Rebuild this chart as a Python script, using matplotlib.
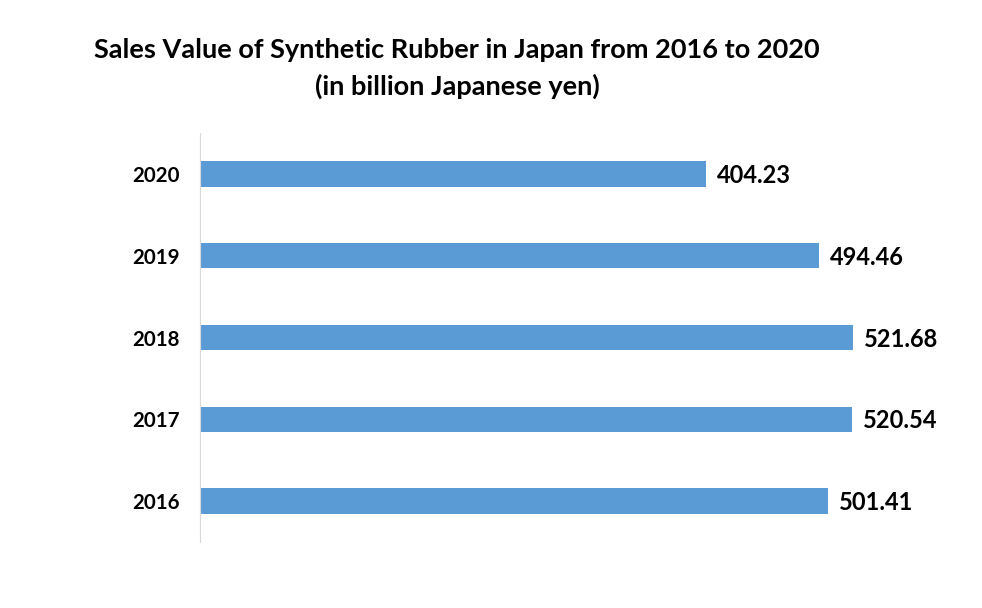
import matplotlib
matplotlib.use('Agg')
import matplotlib.pyplot as plt

years = ['2016', '2017', '2018', '2019', '2020']
values = [501.41, 520.54, 521.68, 494.46, 404.23]

plt.rcParams['font.family'] = ['Lato', 'DejaVu Sans']

fig = plt.figure(figsize=(9.82, 6.08), dpi=100)
# axes placed in pixel terms: x 200..951, y 133..542 (from top)
ax = fig.add_axes([200 / 982, (608 - 542) / 608, 751 / 982, 409 / 608])

ax.barh(range(len(years)), values, height=0.31, color='#5b9bd5')
ax.set_xlim(0, 600)
ax.set_ylim(-0.5, len(years) - 0.5)
ax.set_yticks(range(len(years)))
ax.set_yticklabels(years, fontsize=14.8, fontweight='bold')
ax.tick_params(axis='y', length=0, pad=14.4)
ax.set_xticks([])

for i, v in enumerate(values):
    ax.text(v + 9, i - 0.02, f'{v:.2f}', va='center', ha='left',
            fontsize=17, fontweight='bold')

for side in ['top', 'right', 'bottom']:
    ax.spines[side].set_visible(False)
ax.spines['left'].set_color('#d9d9d9')
ax.spines['left'].set_linewidth(0.8)

fig.text(457 / 982, 1 - 50 / 608,
         'Sales Value of Synthetic Rubber in Japan from 2016 to 2020',
         ha='center', va='center', fontsize=19.5, fontweight='bold')
fig.text(457 / 982, 1 - 86 / 608, '(in billion Japanese yen)',
         ha='center', va='center', fontsize=19.5, fontweight='bold')

fig.savefig('out.png', dpi=100)
